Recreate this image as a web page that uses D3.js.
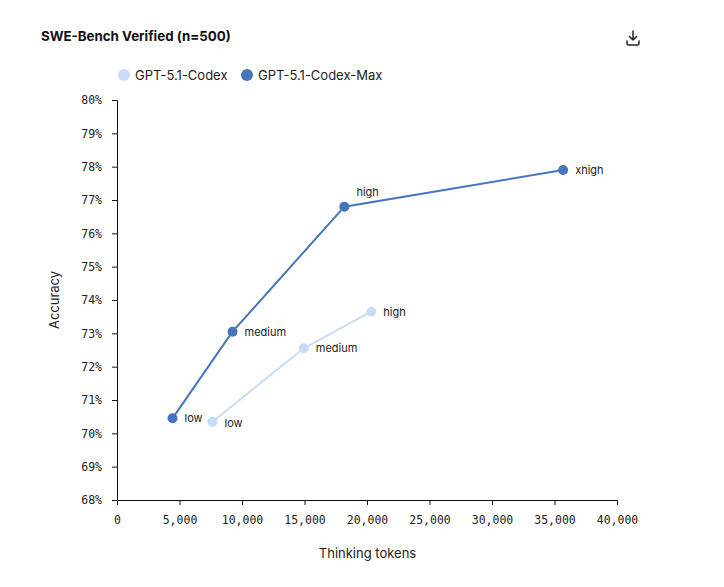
<!DOCTYPE html>
<html>
<head>
<meta charset="utf-8">
<script src="https://cdn.jsdelivr.net/npm/d3@7"></script>
<style>
html,body{margin:0;padding:0;background:#fff;}
svg{display:block;}
.sans{font-family:"Inter","Noto Sans",sans-serif;}
.tick text{font-family:"DejaVu Sans Mono",monospace;font-size:11.5px;fill:#222;}
</style>
</head>
<body>
<div id="chart"></div>
<script>
var seriesNames = ["GPT-5.1-Codex", "GPT-5.1-Codex-Max"];
var seriesColors = ["#c9dcf5", "#4575bd"];

var codexTokens = [7600, 14900, 20300];
var codexAccuracy = [70.35, 72.55, 73.65];
var codexLabels = ["low", "medium", "high"];

var maxTokens = [4400, 9200, 18150, 35650];
var maxAccuracy = [70.45, 73.05, 76.8, 77.9];
var maxLabels = ["low", "medium", "high", "xhigh"];

var xTicks = [0, 5000, 10000, 15000, 20000, 25000, 30000, 35000, 40000];
var yTicks = [68, 69, 70, 71, 72, 73, 74, 75, 76, 77, 78, 79, 80];

function zip(xs, ys, labels){
	return xs.map(function(d, i){ return {x:d, y:ys[i], label:labels[i]}; });
}

var series = [
	{name:seriesNames[0], color:seriesColors[0], points:zip(codexTokens, codexAccuracy, codexLabels)},
	{name:seriesNames[1], color:seriesColors[1], points:zip(maxTokens, maxAccuracy, maxLabels)}
];

var margin = {top:100, left:117},
	width = 500,
	height = 400;

var x = d3.scaleLinear().domain([0, 40000]).range([0, width]),
	y = d3.scaleLinear().domain([68, 80]).range([height, 0]);

var svg = d3.select("#chart").append("svg")
	.attr("width", 724)
	.attr("height", 587);

svg.append("text")
	.attr("class", "sans")
	.attr("x", 41)
	.attr("y", 41)
	.attr("font-size", "13.3px")
	.attr("font-weight", 700)
	.attr("fill", "#111")
	.text("SWE-Bench Verified (n=500)");

// download icon
var icon = svg.append("g")
	.attr("transform", "translate(633,38)")
	.attr("fill", "none")
	.attr("stroke", "#222")
	.attr("stroke-width", 1.5)
	.attr("stroke-linecap", "round")
	.attr("stroke-linejoin", "round");
icon.append("path").attr("d", "M0,-7V2M-3.5,-1.5L0,2L3.5,-1.5");
icon.append("path").attr("d", "M-6,3V5Q-6,7 -4,7H4Q6,7 6,5V3");

// legend
var legendX = [124, 247];
var legend = svg.selectAll(".legend")
	.data(series)
	.enter()
	.append("g")
	.attr("class", "legend")
	.attr("transform", function(d, i){ return "translate(" + legendX[i] + ",75)"; });
legend.append("circle")
	.attr("r", 6)
	.attr("fill", function(d){ return d.color; });
legend.append("text")
	.attr("class", "sans")
	.attr("x", 11)
	.attr("dy", "0.35em")
	.attr("font-size", "13px")
	.attr("fill", "#222")
	.text(function(d){ return d.name; });

var g = svg.append("g")
	.attr("transform", "translate(" + margin.left + "," + margin.top + ")");

g.append("g")
	.attr("transform", "translate(0," + height + ")")
	.call(d3.axisBottom(x).tickValues(xTicks).tickFormat(d3.format(",")).tickSizeOuter(0).tickSize(5).tickPadding(11));

g.append("g")
	.call(d3.axisLeft(y).tickValues(yTicks).tickFormat(function(d){ return d + "%"; }).tickSizeOuter(0).tickSize(5).tickPadding(10));

g.selectAll(".domain").attr("stroke", "#111");
g.selectAll(".tick line").attr("stroke", "#111");

svg.append("text")
	.attr("class", "sans")
	.attr("x", 367.5)
	.attr("y", 558)
	.attr("text-anchor", "middle")
	.attr("font-size", "13px")
	.attr("fill", "#222")
	.text("Thinking tokens");

svg.append("text")
	.attr("class", "sans")
	.attr("transform", "translate(59,300) rotate(-90)")
	.attr("text-anchor", "middle")
	.attr("font-size", "13px")
	.attr("fill", "#222")
	.text("Accuracy");

var line = d3.line()
	.x(function(d){ return x(d.x); })
	.y(function(d){ return y(d.y); });

// same half pixel offset that the axes get
var groups = g.selectAll(".series")
	.data(series)
	.enter()
	.append("g")
	.attr("class", "series")
	.attr("transform", "translate(0.5,0)");

groups.append("path")
	.attr("fill", "none")
	.attr("stroke", function(d){ return d.color; })
	.attr("stroke-width", 2)
	.attr("d", function(d){ return line(d.points); });

groups.selectAll("circle")
	.data(function(d){ return d.points.map(function(p){ return {p:p, color:d.color}; }); })
	.enter()
	.append("circle")
	.attr("cx", function(d){ return x(d.p.x); })
	.attr("cy", function(d){ return y(d.p.y); })
	.attr("r", 5)
	.attr("fill", function(d){ return d.color; });

// labels sit right of the point, except Max "high" (above) and Codex "low" (a little below)
groups.selectAll("text")
	.data(function(d, i){ return d.points.map(function(p){ return {p:p, s:i}; }); })
	.enter()
	.append("text")
	.attr("class", "sans")
	.attr("x", function(d){ return x(d.p.x) + 12; })
	.attr("y", function(d){
		var off = 0;
		if(d.s === 1 && d.p.label === "high"){ off = -15; }
		if(d.s === 0 && d.p.label === "low"){ off = 1; }
		return y(d.p.y) + off;
	})
	.attr("dy", "0.35em")
	.attr("font-size", "11px")
	.attr("fill", "#222")
	.text(function(d){ return d.p.label; });
</script>
</body>
</html>
